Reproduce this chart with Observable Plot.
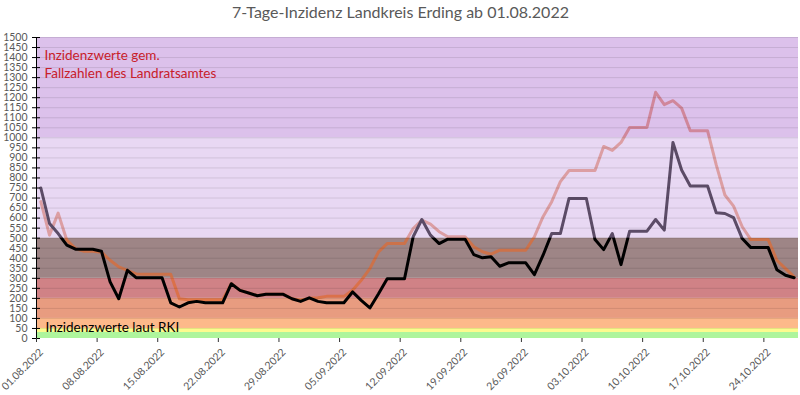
<!DOCTYPE html>
<html><head><meta charset="utf-8">
<script src="https://cdn.jsdelivr.net/npm/d3@7"></script>
<script src="https://cdn.jsdelivr.net/npm/@observablehq/plot@0.6"></script>
<style>body{margin:0;background:#fff;}</style>
</head><body><div id="chart"></div>
<script>
const titleText = "7-Tage-Inzidenz Landkreis Erding ab 01.08.2022";
const noteLRA = "Inzidenzwerte gem.\nFallzahlen des Landratsamtes";
const noteRKI = "Inzidenzwerte laut RKI";
const startDate = "2022-08-01";
const endDate = "2022-10-28";

// RKI values (black line), daily from 01.08.2022
const rki = [750,573,523,465,445,445,445,435,282,198,340,303,303,303,303,178,157,178,185,178,178,178,273,240,227,213,220,220,220,198,185,203,185,178,178,178,232,190,152,223,298,298,298,507,593,515,473,495,495,495,418,402,407,360,377,377,377,318,415,523,523,698,698,698,493,443,523,368,535,535,535,593,540,977,840,760,760,760,627,623,602,498,453,453,453,343,315,303];
// Landratsamt values (orange line)
const lra = [682,515,625,490,448,435,435,430,390,357,340,322,320,320,320,320,198,193,193,193,193,193,273,240,227,213,220,220,220,198,192,200,203,210,210,210,240,290,348,432,473,473,473,548,590,570,532,507,507,507,457,432,420,440,440,440,440,507,607,682,782,837,837,837,837,957,937,977,1052,1052,1052,1227,1165,1185,1148,1035,1035,1035,865,715,660,557,493,493,493,390,348,307];

const xTicks = ["2022-08-01","2022-08-08","2022-08-15","2022-08-22","2022-08-29","2022-09-05","2022-09-12","2022-09-19","2022-09-26","2022-10-03","2022-10-10","2022-10-17","2022-10-24"];
const yTicks = [0,50,100,150,200,250,300,350,400,450,500,550,600,650,700,750,800,850,900,950,1000,1050,1100,1150,1200,1250,1300,1350,1400,1450,1500];

const lowLo = [0,30,50,100,200,300];
const lowHi = [30,50,100,200,300,500];
const lowColor = ["#aef59c","#fcfb8e","#fdb98a","#e89c80","#d08286","#9e8586"];
const highLo = [500,1000];
const highHi = [1000,1500];
const highColor = ["#cca8e4","#b175d2"];

const d0 = new Date(startDate + "T00:00:00Z");
const d1 = new Date(endDate + "T00:00:00Z");
const days = rki.map((v, i) => ({
  date: new Date(Date.UTC(2022, 7, 1 + i, 12)),
  rki: v,
  lra: lra[i]
}));
const lowBands = lowLo.map((lo, i) => ({lo, hi: lowHi[i], color: lowColor[i]}));
const highBands = highLo.map((lo, i) => ({lo, hi: highHi[i], color: highColor[i]}));
const xt = xTicks.map(s => new Date(s + "T00:00:00Z"));
const fmt = d3.utcFormat("%d.%m.%Y");
const W = 800, H = 395, mL = 36, mR = 2, mT = 37, mB = 57;
const font = "Lato, 'Liberation Sans', sans-serif";

const chart = Plot.plot({
  width: W, height: H,
  marginLeft: mL, marginRight: mR, marginTop: mT, marginBottom: mB,
  style: {fontFamily: font, fontSize: "11px", color: "#595959", background: "#fff"},
  x: {type: "utc", domain: [d0, d1], axis: null},
  y: {domain: [0, 1500], axis: null},
  color: {type: "identity"},
  marks: [
    Plot.rect(lowBands, {x1: () => d0, x2: () => d1, y1: "lo", y2: "hi", fill: "color"}),
    Plot.line(days, {x: "date", y: "lra", stroke: "#e06a30", strokeOpacity: 0.7, strokeWidth: 3, strokeLinejoin: "round", strokeLinecap: "round"}),
    Plot.line(days, {x: "date", y: "rki", stroke: "#000", strokeWidth: 3, strokeLinejoin: "round", strokeLinecap: "round"}),
    Plot.rect(highBands, {x1: () => d0, x2: () => d1, y1: "lo", y2: "hi", fill: "color", fillOpacity: 0.45}),
    Plot.ruleY(yTicks.filter(v => v > 0), {stroke: "#000", strokeOpacity: 0.1}),
    Plot.ruleX([d0], {stroke: "#000", strokeWidth: 1}),
    Plot.tickY(yTicks, {y: d => d, stroke: "#000", insetLeft: -4, insetRight: W - mL - mR - 4}),
    Plot.text(yTicks, {y: d => d, text: d => String(d), frameAnchor: "left", textAnchor: "end", dx: -9, fill: "#595959", fontSize: 10.5}),
    Plot.tickX(xt, {x: d => d, stroke: "#333", insetTop: H - mT - mB, insetBottom: -4}),
    Plot.text(xt, {x: d => d, text: d => fmt(d), frameAnchor: "bottom", rotate: -45, textAnchor: "end", lineAnchor: "middle", dx: 5, dy: 12, fill: "#595959", fontSize: 10.5}),
    Plot.text([noteLRA], {frameAnchor: "top-left", textAnchor: "start", lineAnchor: "middle", lineHeight: 1.4, dx: 8, dy: 25.5, fill: "#c8202a", fontSize: 13.5}),
    Plot.text([noteRKI], {frameAnchor: "bottom-left", textAnchor: "start", lineAnchor: "middle", dx: 9, dy: -11, fill: "#000", fontSize: 13.5}),
    Plot.text([titleText], {frameAnchor: "top", lineAnchor: "middle", dx: (W / 2) - (mL + (W - mL - mR) / 2), dy: -25, fill: "#595959", fontSize: 16})
  ]
});
document.getElementById("chart").appendChild(chart);
</script>
</body></html>
